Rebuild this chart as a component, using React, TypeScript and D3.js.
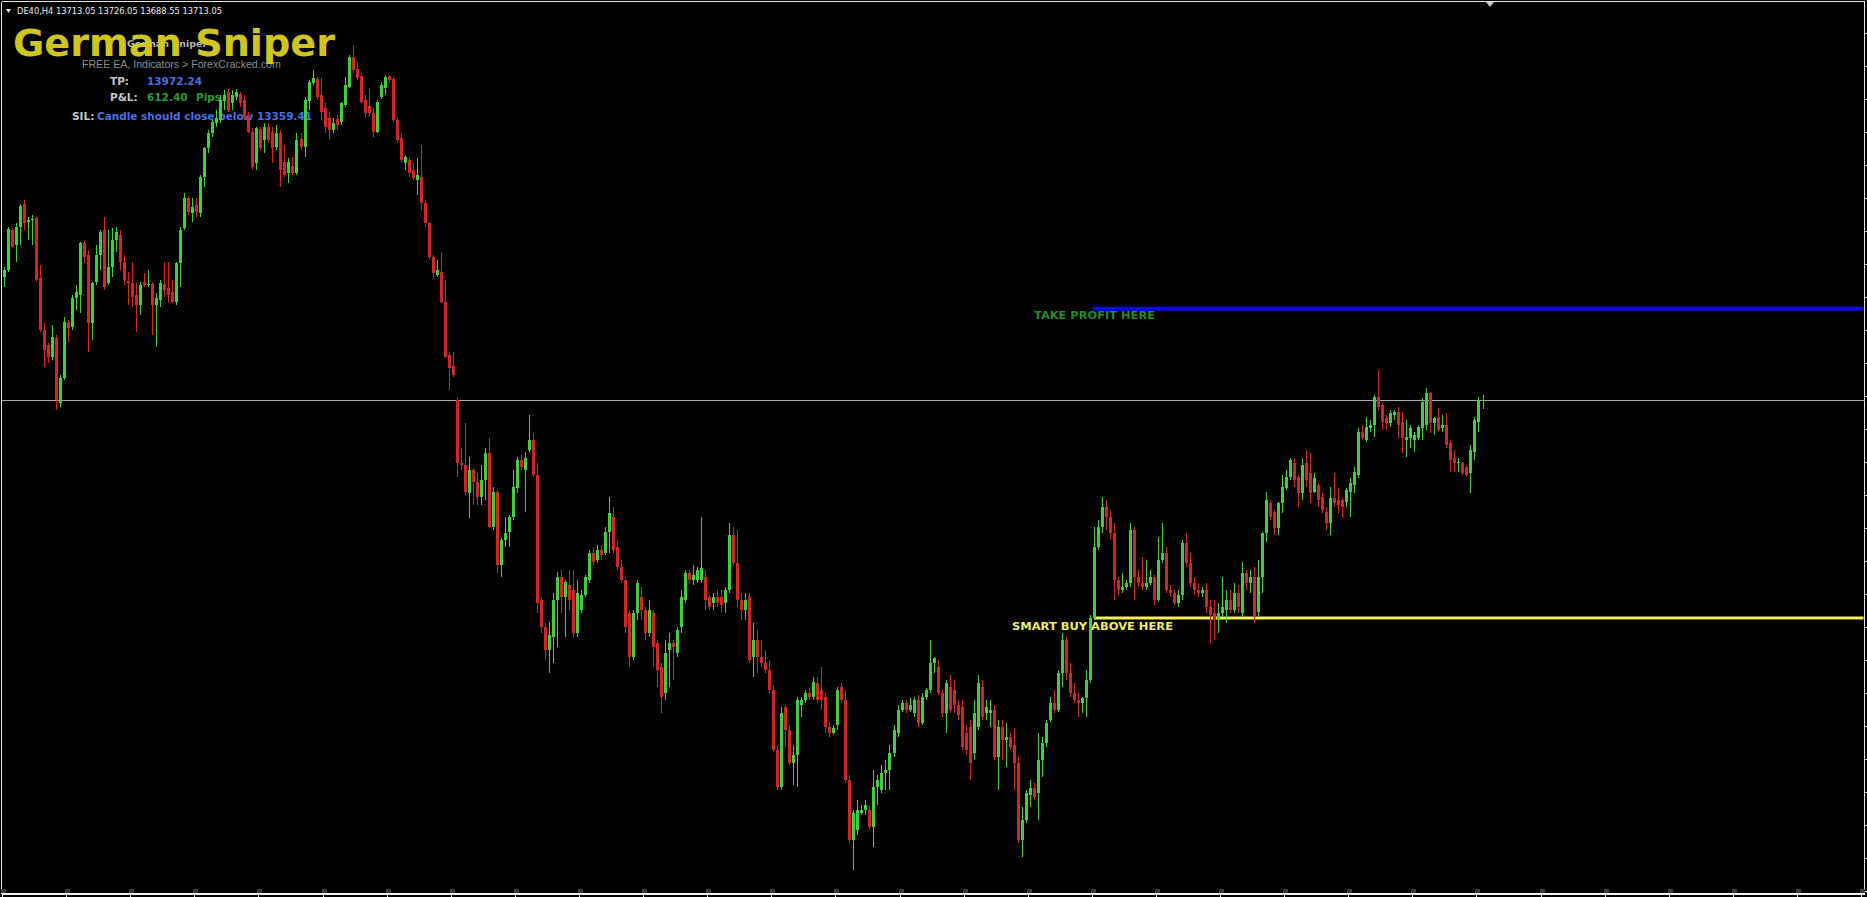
import React from 'react';
import * as d3 from 'd3';

const W = 1867;
const H = 897;

// ---- text / level values ----
const symbolLabel = 'DE40,H4';
const headerOHLC = ['13713.05', '13726.05', '13688.55', '13713.05'];
const titleText = 'German Sniper';
const subtitleText = 'FREE EA, Indicators > ForexCracked.com';
const tpPrice = 13972.24;
const pnlPips = '612.40';
const slPrice = 13359.41;
const smartBuyPrice = 13094;
const bidPrice = 13713.05;
const levelStartIndex = 272;
const visiblePriceRange = [12311.5, 14844.7];

// ---- candle data (DE40, H4) ----
const opens = [
  14062, 14082, 14196, 14153, 14204, 14270, 14219, 14224, 14230, 14059,
  13912, 13869, 13835, 13889, 13704, 13775, 13935, 13920, 14003, 14011,
  14159, 14125, 13932, 14048, 14125, 14196, 14045, 14091, 14167, 14182,
  14105, 14051, 14045, 14011, 13983, 14048, 14040, 14042, 13983, 13997,
  14042, 14031, 14020, 13991, 14102, 14201, 14287, 14244, 14267, 14244,
  14346, 14429, 14471, 14500, 14508, 14562, 14588, 14556, 14574, 14582,
  14565, 14517, 14474, 14386, 14483, 14451, 14488, 14474, 14432, 14471,
  14389, 14358, 14378, 14358, 14454, 14432, 14562, 14613, 14625, 14579,
  14542, 14514, 14480, 14511, 14503, 14551, 14602, 14687, 14653, 14633,
  14565, 14548, 14528, 14474, 14574, 14599, 14633, 14625, 14508, 14457,
  14386, 14395, 14366, 14338, 14346, 14272, 14216, 14119, 14068, 14077,
  13991, 13841, 13810, 13713, 13534, 13528, 13449, 13514, 13480, 13438,
  13486, 13562, 13352, 13452, 13244, 13315, 13338, 13381, 13463, 13543,
  13514, 13571, 13599, 13500, 13145, 13068, 13003, 13040, 13145, 13210,
  13154, 13188, 13173, 13051, 13117, 13159, 13202, 13278, 13259, 13287,
  13278, 13338, 13381, 13296, 13239, 13202, 13108, 12983, 13108, 13154,
  13117, 13051, 13108, 13023, 12955, 12881, 13003, 13023, 12994, 13068,
  13145, 13222, 13202, 13202, 13202, 13210, 13154, 13136, 13154, 13154,
  13136, 13173, 13330, 13250, 13145, 13117, 13154, 12983, 13031, 12983,
  12966, 12946, 12889, 12719, 12614, 12841, 12776, 12682, 12705, 12847,
  12861, 12881, 12870, 12909, 12889, 12870, 12784, 12767, 12790, 12898,
  12861, 12634, 12463, 12492, 12540, 12549, 12549, 12500, 12614, 12605,
  12654, 12662, 12710, 12767, 12833, 12852, 12833, 12824, 12861, 12796,
  12870, 12889, 12966, 12955, 12881, 12824, 12898, 12889, 12847, 12841,
  12767, 12784, 12710, 12784, 12898, 12824, 12824, 12833, 12699, 12784,
  12747, 12756, 12733, 12682, 12463, 12520, 12591, 12611, 12597, 12691,
  12739, 12804, 12852, 12833, 12938, 13031, 12938, 12881, 12861, 12852,
  12867, 12918, 13094, 13296, 13352, 13409, 13381, 13335, 13202, 13173,
  13182, 13193, 13344, 13210, 13193, 13182, 13193, 13210, 13145, 13259,
  13278, 13173, 13165, 13136, 13159, 13307, 13250, 13193, 13173, 13165,
  13173, 13125, 13108, 13088, 13108, 13117, 13145, 13117, 13165, 13108,
  13222, 13193, 13210, 13111, 13210, 13335, 13420, 13395, 13349, 13420,
  13463, 13494, 13534, 13494, 13449, 13534, 13506, 13452, 13472, 13438,
  13395, 13364, 13435, 13429, 13429, 13423, 13452, 13472, 13500, 13622,
  13599, 13633, 13642, 13722, 13699, 13662, 13648, 13670, 13679, 13651,
  13599, 13605, 13599, 13605, 13633, 13642, 13733, 13648, 13665, 13633,
  13642, 13591, 13548, 13534, 13534, 13523, 13506, 13565, 13651, 13713.05,
];

const highs = [
  14091, 14204, 14201, 14216, 14270, 14281, 14233, 14238, 14233, 14096,
  13932, 13875, 13926, 13898, 13784, 13949, 13940, 14011, 14040, 14162,
  14165, 14139, 14048, 14153, 14196, 14233, 14196, 14201, 14204, 14196,
  14125, 14077, 14105, 14045, 14048, 14074, 14082, 14048, 14017, 14054,
  14105, 14105, 14054, 14105, 14204, 14301, 14292, 14287, 14287, 14352,
  14432, 14480, 14508, 14537, 14579, 14593, 14596, 14593, 14596, 14588,
  14579, 14531, 14485, 14488, 14488, 14500, 14500, 14488, 14494, 14480,
  14437, 14400, 14403, 14471, 14471, 14574, 14622, 14650, 14630, 14627,
  14556, 14531, 14514, 14522, 14559, 14630, 14693, 14721, 14670, 14642,
  14579, 14599, 14542, 14565, 14616, 14636, 14636, 14630, 14514, 14471,
  14409, 14400, 14386, 14400, 14437, 14281, 14219, 14125, 14111, 14133,
  14054, 13849, 13849, 13722, 13577, 13648, 13551, 13520, 13506, 13528,
  13577, 13605, 13466, 13457, 13321, 13381, 13386, 13514, 13551, 13557,
  13565, 13670, 13619, 13534, 13154, 13080, 13083, 13165, 13225, 13230,
  13202, 13230, 13230, 13202, 13173, 13216, 13287, 13293, 13301, 13301,
  13352, 13438, 13409, 13315, 13259, 13210, 13117, 13117, 13202, 13182,
  13125, 13145, 13117, 13031, 12966, 13031, 13051, 13031, 13068, 13173,
  13230, 13230, 13244, 13239, 13381, 13230, 13159, 13165, 13173, 13173,
  13182, 13364, 13352, 13344, 13165, 13165, 13165, 13080, 13060, 13031,
  13003, 12975, 12904, 12733, 12841, 12847, 12790, 12733, 12870, 12870,
  12889, 12895, 12926, 12926, 12955, 12881, 12799, 12790, 12898, 12909,
  12889, 12648, 12549, 12577, 12563, 12577, 12563, 12662, 12648, 12676,
  12691, 12733, 12790, 12847, 12861, 12861, 12867, 12870, 12875, 12881,
  12895, 13031, 12983, 12975, 12889, 12918, 12932, 12918, 12861, 12861,
  12790, 12804, 12861, 12932, 12918, 12861, 12861, 12847, 12804, 12804,
  12796, 12767, 12781, 12699, 12557, 12605, 12634, 12625, 12767, 12756,
  12804, 12870, 12889, 12946, 13051, 13040, 12966, 12909, 12881, 12870,
  12946, 13102, 13352, 13372, 13438, 13429, 13401, 13364, 13210, 13222,
  13202, 13364, 13352, 13230, 13267, 13259, 13230, 13216, 13324, 13364,
  13296, 13188, 13173, 13173, 13315, 13335, 13278, 13210, 13193, 13182,
  13193, 13145, 13145, 13136, 13210, 13173, 13173, 13193, 13188, 13253,
  13230, 13230, 13239, 13259, 13338, 13452, 13429, 13401, 13423, 13500,
  13514, 13548, 13548, 13500, 13548, 13571, 13562, 13506, 13477, 13449,
  13409, 13466, 13506, 13463, 13435, 13463, 13491, 13523, 13633, 13642,
  13665, 13656, 13727, 13798, 13704, 13670, 13685, 13685, 13693, 13679,
  13656, 13642, 13622, 13642, 13719, 13747, 13736, 13665, 13690, 13670,
  13676, 13599, 13571, 13548, 13537, 13528, 13585, 13665, 13722, 13726.05,
];

const lows = [
  14034, 14077, 14145, 14105, 14153, 14196, 14167, 14153, 14048, 13906,
  13807, 13818, 13827, 13685, 13693, 13770, 13878, 13912, 13969, 13960,
  14102, 13849, 13883, 14040, 14082, 14025, 14040, 14062, 14133, 14082,
  14040, 13983, 13977, 13906, 13954, 14034, 14034, 13898, 13864, 13977,
  14006, 13988, 13988, 13983, 14034, 14196, 14238, 14219, 14233, 14233,
  14318, 14414, 14460, 14488, 14500, 14537, 14531, 14537, 14565, 14545,
  14508, 14471, 14366, 14366, 14423, 14414, 14443, 14386, 14423, 14318,
  14346, 14329, 14352, 14352, 14423, 14403, 14537, 14608, 14565, 14508,
  14471, 14451, 14471, 14480, 14494, 14545, 14599, 14642, 14622, 14556,
  14517, 14517, 14460, 14471, 14568, 14579, 14613, 14503, 14443, 14386,
  14366, 14346, 14338, 14295, 14253, 14204, 14111, 14062, 14062, 13988,
  13832, 13741, 13778, 13494, 13514, 13443, 13378, 13415, 13415, 13415,
  13429, 13349, 13344, 13222, 13210, 13296, 13296, 13372, 13449, 13514,
  13395, 13565, 13494, 13108, 13051, 12975, 12938, 12966, 13012, 13108,
  13040, 13117, 13040, 13040, 13108, 13154, 13193, 13244, 13250, 13259,
  13273, 13278, 13278, 13230, 13193, 13051, 12955, 12975, 13088, 13088,
  13031, 13040, 12955, 12898, 12824, 12861, 12898, 12918, 12983, 13051,
  13136, 13193, 13188, 13193, 13193, 13117, 13117, 13117, 13125, 13108,
  13108, 13165, 13244, 13125, 13088, 13088, 12966, 12926, 12938, 12955,
  12938, 12881, 12713, 12605, 12605, 12728, 12676, 12620, 12614, 12813,
  12852, 12861, 12861, 12852, 12833, 12767, 12756, 12762, 12776, 12852,
  12625, 12455, 12378, 12478, 12534, 12534, 12492, 12444, 12563, 12597,
  12605, 12605, 12699, 12756, 12827, 12824, 12827, 12813, 12784, 12790,
  12861, 12881, 12938, 12875, 12813, 12767, 12824, 12824, 12804, 12719,
  12705, 12634, 12691, 12776, 12804, 12804, 12784, 12691, 12605, 12691,
  12671, 12719, 12605, 12455, 12415, 12512, 12557, 12577, 12520, 12642,
  12728, 12799, 12824, 12827, 12898, 12918, 12870, 12852, 12813, 12824,
  12813, 12909, 13088, 13287, 13335, 13344, 13315, 13145, 13159, 13165,
  13173, 13182, 13145, 13182, 13173, 13173, 13188, 13131, 13139, 13250,
  13165, 13154, 13131, 13125, 13145, 13239, 13182, 13159, 13154, 13154,
  13108, 13023, 13031, 13051, 13097, 13080, 13108, 13108, 13108, 13097,
  13173, 13165, 13080, 13097, 13165, 13310, 13372, 13330, 13330, 13392,
  13457, 13486, 13466, 13409, 13429, 13466, 13420, 13449, 13409, 13392,
  13344, 13330, 13409, 13392, 13378, 13409, 13381, 13449, 13491, 13599,
  13594, 13622, 13608, 13685, 13628, 13628, 13636, 13656, 13605, 13562,
  13551, 13577, 13565, 13599, 13599, 13628, 13619, 13614, 13622, 13622,
  13577, 13509, 13509, 13509, 13500, 13494, 13449, 13543, 13622, 13688.55,
];

const closes = [
  14082, 14199, 14148, 14204, 14264, 14216, 14224, 14227, 14054, 13912,
  13855, 13835, 13892, 13713, 13775, 13935, 13917, 14003, 14020, 14159,
  14119, 13932, 14045, 14125, 14190, 14034, 14091, 14167, 14190, 14105,
  14054, 14045, 14006, 13983, 14040, 14040, 14042, 13983, 14003, 14045,
  14025, 14011, 13991, 14102, 14196, 14287, 14247, 14261, 14247, 14346,
  14429, 14471, 14503, 14514, 14565, 14579, 14537, 14579, 14588, 14556,
  14517, 14474, 14375, 14485, 14429, 14488, 14451, 14429, 14471, 14366,
  14352, 14389, 14358, 14451, 14432, 14565, 14616, 14627, 14574, 14531,
  14488, 14480, 14500, 14494, 14556, 14608, 14687, 14650, 14627, 14559,
  14528, 14528, 14474, 14559, 14608, 14630, 14622, 14508, 14451, 14395,
  14403, 14358, 14343, 14352, 14272, 14216, 14119, 14074, 14082, 13991,
  13835, 13804, 13784, 13534, 13528, 13452, 13514, 13480, 13438, 13486,
  13562, 13352, 13452, 13244, 13315, 13335, 13381, 13466, 13543, 13523,
  13548, 13599, 13500, 13136, 13068, 13003, 13046, 13145, 13210, 13154,
  13196, 13145, 13051, 13165, 13159, 13210, 13278, 13253, 13287, 13273,
  13338, 13392, 13287, 13239, 13202, 13068, 12983, 13108, 13193, 13117,
  13051, 13117, 13012, 12946, 12870, 12994, 13023, 13012, 13060, 13154,
  13222, 13202, 13216, 13230, 13236, 13145, 13125, 13154, 13136, 13131,
  13173, 13330, 13250, 13145, 13117, 13145, 12975, 13031, 12983, 12966,
  12946, 12889, 12719, 12614, 12824, 12776, 12682, 12705, 12861, 12861,
  12881, 12870, 12912, 12861, 12861, 12784, 12767, 12781, 12889, 12861,
  12634, 12463, 12540, 12549, 12549, 12563, 12500, 12614, 12634, 12654,
  12662, 12710, 12776, 12833, 12852, 12833, 12847, 12861, 12796, 12870,
  12889, 12966, 12980, 12881, 12824, 12909, 12833, 12847, 12818, 12728,
  12719, 12682, 12824, 12909, 12813, 12841, 12833, 12699, 12784, 12747,
  12756, 12728, 12682, 12463, 12520, 12597, 12611, 12586, 12691, 12739,
  12796, 12852, 12833, 12938, 13031, 12938, 12881, 12861, 12852, 12867,
  12918, 13094, 13296, 13352, 13409, 13381, 13335, 13202, 13173, 13182,
  13193, 13344, 13210, 13193, 13182, 13193, 13210, 13145, 13259, 13278,
  13173, 13165, 13136, 13159, 13307, 13250, 13193, 13173, 13165, 13173,
  13125, 13102, 13088, 13108, 13125, 13145, 13117, 13165, 13125, 13222,
  13193, 13210, 13097, 13210, 13335, 13429, 13381, 13349, 13420, 13466,
  13494, 13543, 13486, 13449, 13528, 13486, 13449, 13491, 13429, 13401,
  13364, 13435, 13420, 13415, 13409, 13457, 13477, 13509, 13622, 13605,
  13636, 13642, 13722, 13693, 13651, 13648, 13676, 13679, 13642, 13605,
  13608, 13633, 13614, 13636, 13707, 13733, 13648, 13662, 13628, 13642,
  13585, 13543, 13534, 13537, 13506, 13500, 13571, 13656, 13713, 13713.05,
];

const BULL = '#3fcf3f';
const BEAR = '#d02626';

export default function App() {
  const n = closes.length;
  const left = 1.5;
  const right = 1864.5;
  const top = 1.5;
  const bottom = 893.5;

  const x = d3.scaleLinear().domain([0, n - 1]).range([4, 1482.5]);
  const y = d3.scaleLinear().domain(visiblePriceRange).range([bottom, top]);

  const timeTicks = d3.range(0, n + 100, 16);
  const priceTicks = d3.range(14755.3, visiblePriceRange[0], -93.72);

  const yTP = y(tpPrice);
  const yBuy = y(smartBuyPrice);
  const yBid = y(bidPrice);
  const xLevel = Math.round(x(levelStartIndex)) - 1;

  const bold = { fontFamily: 'DejaVu Sans', fontWeight: 700 } as const;

  return (
    <svg
      width={W}
      height={H}
      style={{ position: 'fixed', left: 0, top: 0, display: 'block', background: '#000' }}
    >
      <rect x={0} y={0} width={W} height={H} fill="#000" />

      {/* frame */}
      <g shapeRendering="crispEdges">
        <line x1={left} x2={right} y1={top} y2={top} stroke="#e8e8e8" strokeWidth={1} />
        <line x1={left} x2={left} y1={top} y2={894} stroke="#e8e8e8" strokeWidth={1} />
        <line x1={right} x2={right} y1={top} y2={895} stroke="#e8e8e8" strokeWidth={1} />
        <line x1={left} x2={right} y1={894} y2={894} stroke="#f0f0f0" strokeWidth={2} />
        {priceTicks.map((p, i) => (
          <line key={'pt' + i} x1={right} x2={W} y1={Math.round(y(p)) + 0.5} y2={Math.round(y(p)) + 0.5} stroke="#d8d8d8" />
        ))}
        {timeTicks.map((t, i) => {
          const tx = Math.round(x(t)) - 2 + 0.5;
          if (tx > right) return null;
          return (
            <g key={'tt' + i}>
              <line x1={tx} x2={tx} y1={894} y2={H} stroke="#e8e8e8" />
              <rect x={tx - 2} y={889} width={5} height={4} fill="#3a3a3a" />
            </g>
          );
        })}
      </g>

      {/* shift marker */}
      <path d="M1486,2 L1494,2 L1490,7 Z" fill="#c8c8c8" />

      {/* bid line */}
      <line x1={left} x2={right} y1={Math.round(yBid) + 0.5} y2={Math.round(yBid) + 0.5} stroke="#a9a9a9" strokeWidth={1} shapeRendering="crispEdges" />

      {/* take profit & smart buy levels */}
      <line x1={xLevel} x2={right - 1} y1={yTP} y2={yTP} stroke="#0a0ae6" strokeWidth={4} />
      <line x1={xLevel + 1} x2={right - 1} y1={yBuy} y2={yBuy} stroke="#f2ee62" strokeWidth={3} />

      <text x={1034} y={yTP + 10.5} fill="#1f8c25" fontSize={10} textLength={121} lengthAdjust="spacingAndGlyphs" style={bold}>
        TAKE PROFIT HERE
      </text>
      <text x={1012} y={yBuy + 12} fill="#f2ee58" fontSize={10.5} textLength={161} lengthAdjust="spacingAndGlyphs" style={bold}>
        SMART BUY ABOVE HERE
      </text>

      {/* header */}
      <path d="M6,9 L11,9 L8.5,13 Z" fill="#f0f0f0" />
      <text x={17} y={14} fill="#ececec" fontSize={8.6} fontFamily="DejaVu Sans" textLength={205} lengthAdjust="spacingAndGlyphs">
        {`${symbolLabel}  ${headerOHLC.join(' ')}`}
      </text>

      {/* info panel */}
      <text x={127} y={47} fill="#b4b4b4" fontSize={9.5} style={bold}>{titleText}</text>
      <text x={82} y={68} fill="#8e8e8e" fontSize={10.6} fontFamily="Liberation Sans">{subtitleText}</text>
      <text x={110} y={85} fill="#c6c6c6" fontSize={10.5} style={bold}>TP:</text>
      <text x={147} y={85} fill="#4a6fe3" fontSize={10.5} style={bold}>{tpPrice.toFixed(2)}</text>
      <text x={110} y={101} fill="#c6c6c6" fontSize={10.5} style={bold}>P&amp;L:</text>
      <text x={147} y={101} fill="#2c9a2c" fontSize={10.5} style={bold}>{pnlPips}</text>
      <text x={196} y={101} fill="#2c9a2c" fontSize={10.5} style={bold}>Pips</text>
      <text x={72} y={120} fill="#c6c6c6" fontSize={10.5} style={bold}>SIL:</text>
      <text x={97} y={120} fill="#4a6fe3" fontSize={10.5} textLength={215} lengthAdjust="spacingAndGlyphs" style={bold}>
        {`Candle should close below ${slPrice.toFixed(2)}`}
      </text>

      {/* candles */}
      <g shapeRendering="crispEdges">
        {closes.map((c, i) => {
          const o = opens[i];
          const up = c >= o;
          const col = up ? BULL : BEAR;
          const cx = Math.round(x(i));
          const hi = Math.max(highs[i], o, c);
          const lo = Math.min(lows[i], o, c);
          const bTop = Math.round(y(Math.max(o, c)));
          const bBot = Math.round(y(Math.min(o, c)));
          const bh = Math.max(1, bBot - bTop);
          const wTop = Math.round(y(hi));
          const wBot = Math.round(y(lo));
          return (
            <g key={i}>
              <rect x={cx} y={wTop} width={1} height={Math.max(1, wBot - wTop)} fill={col} />
              <rect x={cx - 1} y={bTop} width={3} height={bh} fill={col} />
            </g>
          );
        })}
      </g>

      {/* big title */}
      <text x={13} y={56} fill="#cfc51e" fontSize={38} style={bold} textLength={322} lengthAdjust="spacingAndGlyphs">
        {titleText}
      </text>
    </svg>
  );
}
